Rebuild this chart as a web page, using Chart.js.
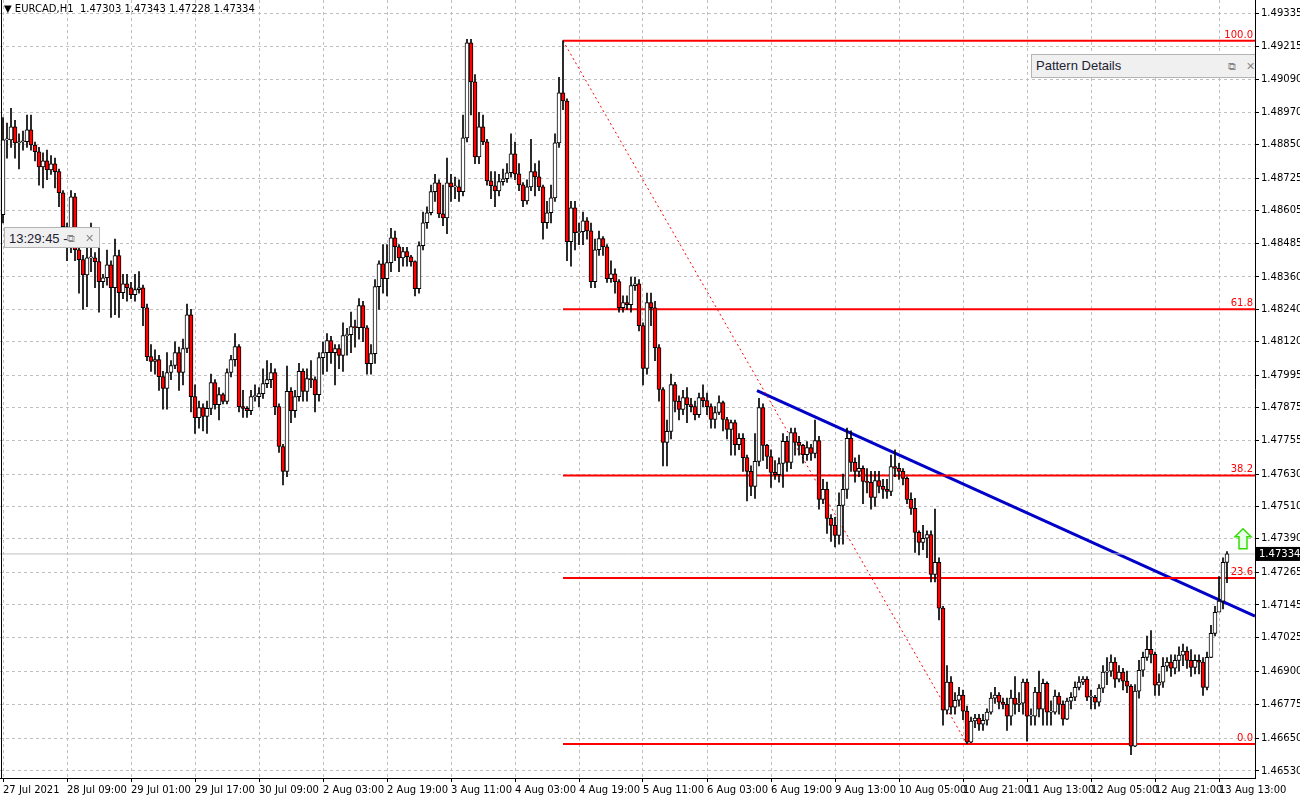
<!DOCTYPE html>
<html>
<head>
<meta charset="utf-8">
<script src="https://cdn.jsdelivr.net/npm/chart.js@4.4.1/dist/chart.umd.min.js"></script>
<style>
  body { margin: 0; background: #fff; }
  #wrap { position: relative; width: 1300px; height: 798px; }
  .head { position: absolute; left: 4px; top: 3px; font: 10px "DejaVu Sans", sans-serif; color: #000; }
  .timer { position: absolute; left: 4px; top: 227px; height: 21px; background: #f0f0f0;
           border: 1px solid #b4b4b4; font: 13px "Liberation Sans", sans-serif; color: #223; line-height: 21px; padding-left: 4px; box-sizing: border-box; width: 96px; }
  .pattern { position: absolute; left: 1031px; top: 54px; width: 224px; height: 24px; background: #f0f0f0;
             border: 1px solid #b4b4b4; border-right: none; font: 13px "Liberation Sans", sans-serif; color: #223; line-height: 22px; padding-left: 4px; box-sizing: border-box; }
  .ico { color: #888; position: absolute; font-size: 11px; }
</style>
</head>
<body>
<div id="wrap">
  <canvas id="chart" width="1300" height="798"></canvas>
  <div class="head">&#9660; EURCAD,H1&nbsp; 1.47303 1.47343 1.47228 1.47334</div>
  <div class="timer">13:29:45 - <span class="ico" style="left:62px">&#10697;</span><span class="ico" style="left:80px">&#10005;</span></div>
  <div class="pattern">Pattern Details <span class="ico" style="left:196px">&#10697;</span><span class="ico" style="left:214px">&#10005;</span></div>
</div>
<script>
const firstOpen = 1.48591;
const closes = [
1.48868,1.48868,1.48916,1.48857,1.48861,1.48861,1.48905,1.48849,1.48824,1.48768,
1.48790,1.48757,1.48779,1.48750,1.48672,1.48546,1.48479,1.48657,1.48461,1.48424,
1.48368,1.48431,1.48431,1.48417,1.48343,1.48357,1.48405,1.48320,1.48439,1.48302,
1.48335,1.48320,1.48294,1.48313,1.48320,1.48246,1.48065,1.48047,1.48054,1.47991,
1.47947,1.48006,1.48032,1.48080,1.48006,1.48095,1.48220,1.47917,1.47839,1.47876,
1.47843,1.47873,1.47969,1.47887,1.47924,1.47899,1.48006,1.48054,1.48102,1.47880,
1.47873,1.47865,1.47917,1.47917,1.47928,1.47965,1.47980,1.48006,1.47880,1.47732,
1.47640,1.47936,1.47865,1.47917,1.48010,1.47936,1.47984,1.47980,1.47924,1.48061,
1.48080,1.48124,1.48080,1.48095,1.48069,1.48143,1.48146,1.48176,1.48172,1.48254,
1.48172,1.48039,1.48076,1.48324,1.48409,1.48354,1.48413,1.48505,1.48472,1.48431,
1.48454,1.48435,1.48417,1.48317,1.48476,1.48561,1.48598,1.48676,1.48709,1.48594,
1.48579,1.48709,1.48694,1.48694,1.48676,1.48875,1.49227,1.49083,1.48805,1.48916,
1.48861,1.48716,1.48698,1.48679,1.48713,1.48724,1.48746,1.48816,1.48742,1.48701,
1.48642,1.48694,1.48750,1.48731,1.48694,1.48561,1.48598,1.48653,1.48857,1.49042,
1.49012,1.48491,1.48616,1.48524,1.48528,1.48568,1.48531,1.48343,1.48461,1.48502,
1.48472,1.48354,1.48372,1.48343,1.48246,1.48265,1.48257,1.48328,1.48335,1.48180,
1.48021,1.48265,1.48246,1.48098,1.47943,1.47747,1.47788,1.47961,1.47899,1.47869,
1.47913,1.47887,1.47880,1.47850,1.47913,1.47902,1.47880,1.47832,1.47858,1.47895,
1.47832,1.47795,1.47821,1.47739,1.47762,1.47691,1.47640,1.47584,1.47677,1.47876,
1.47736,1.47695,1.47636,1.47628,1.47669,1.47751,1.47673,1.47784,1.47747,1.47736,
1.47702,1.47728,1.47706,1.47754,1.47536,1.47573,1.47466,1.47440,1.47403,1.47514,
1.47573,1.47762,1.47673,1.47640,1.47651,1.47603,1.47599,1.47543,1.47606,1.47584,
1.47573,1.47566,1.47658,1.47651,1.47640,1.47614,1.47536,1.47503,1.47414,1.47377,
1.47392,1.47406,1.47258,1.47303,1.47133,1.46755,1.46859,1.46766,1.46792,1.46811,
1.46752,1.46637,1.46715,1.46726,1.46703,1.46718,1.46748,1.46800,1.46811,1.46785,
1.46777,1.46733,1.46800,1.46777,1.46781,1.46859,1.46733,1.46733,1.46822,1.46759,
1.46855,1.46748,1.46748,1.46807,1.46777,1.46722,1.46789,1.46803,1.46840,1.46859,
1.46870,1.46803,1.46803,1.46785,1.46837,1.46896,1.46900,1.46933,1.46870,1.46896,
1.46863,1.46844,1.46622,1.46826,1.46903,1.46951,1.46981,1.46962,1.46848,1.46859,
1.46918,1.46933,1.46911,1.46940,1.46959,1.46974,1.46940,1.46914,1.46940,1.46933,
1.46840,1.46951,1.47040,1.47118,1.47159,1.47303,1.47334];
const highs = [
1.48950,1.48930,1.48985,1.48940,1.48890,1.48900,1.48960,1.48960,1.48860,1.48840,
1.48820,1.48830,1.48810,1.48800,1.48760,1.48680,1.48560,1.48680,1.48670,1.48480,
1.48440,1.48470,1.48560,1.48450,1.48470,1.48370,1.48460,1.48420,1.48500,1.48460,
1.48370,1.48370,1.48340,1.48370,1.48380,1.48330,1.48260,1.48110,1.48090,1.48070,
1.48010,1.48080,1.48050,1.48120,1.48100,1.48130,1.48260,1.48240,1.47960,1.47900,
1.47890,1.47900,1.48000,1.47980,1.47950,1.47930,1.48020,1.48070,1.48150,1.48110,
1.47940,1.47880,1.47940,1.47960,1.47950,1.48020,1.48050,1.48040,1.48020,1.47890,
1.47740,1.48030,1.47950,1.47940,1.48040,1.48020,1.48020,1.48050,1.47990,1.48080,
1.48120,1.48150,1.48140,1.48110,1.48110,1.48190,1.48170,1.48230,1.48200,1.48280,
1.48270,1.48180,1.48110,1.48350,1.48420,1.48480,1.48480,1.48540,1.48530,1.48480,
1.48470,1.48470,1.48440,1.48420,1.48490,1.48600,1.48620,1.48700,1.48740,1.48720,
1.48700,1.48800,1.48740,1.48730,1.48720,1.48960,1.49240,1.49240,1.49110,1.48970,
1.48960,1.48870,1.48750,1.48750,1.48740,1.48760,1.48780,1.48890,1.48860,1.48780,
1.48710,1.48720,1.48870,1.48780,1.48790,1.48700,1.48640,1.48700,1.48890,1.49100,
1.49235,1.49020,1.48640,1.48640,1.48560,1.48600,1.48580,1.48560,1.48500,1.48530,
1.48510,1.48480,1.48420,1.48390,1.48350,1.48290,1.48290,1.48360,1.48360,1.48350,
1.48190,1.48300,1.48300,1.48270,1.48110,1.47950,1.47830,1.48000,1.47970,1.47920,
1.47940,1.47950,1.47910,1.47900,1.47930,1.47960,1.47930,1.47890,1.47880,1.47920,
1.47900,1.47840,1.47830,1.47830,1.47780,1.47780,1.47700,1.47660,1.47780,1.47910,
1.47890,1.47740,1.47720,1.47680,1.47690,1.47780,1.47770,1.47800,1.47800,1.47770,
1.47740,1.47750,1.47740,1.47830,1.47770,1.47610,1.47600,1.47480,1.47470,1.47560,
1.47630,1.47800,1.47790,1.47690,1.47700,1.47660,1.47650,1.47640,1.47640,1.47640,
1.47610,1.47610,1.47700,1.47720,1.47670,1.47650,1.47620,1.47560,1.47540,1.47420,
1.47440,1.47420,1.47420,1.47500,1.47320,1.47140,1.46920,1.46880,1.46820,1.46840,
1.46830,1.46770,1.46730,1.46740,1.46740,1.46740,1.46760,1.46820,1.46840,1.46820,
1.46800,1.46800,1.46830,1.46880,1.46820,1.46870,1.46870,1.46760,1.46840,1.46900,
1.46870,1.46860,1.46790,1.46830,1.46820,1.46790,1.46800,1.46820,1.46860,1.46880,
1.46880,1.46880,1.46830,1.46810,1.46850,1.46920,1.46950,1.46960,1.46950,1.46920,
1.46910,1.46900,1.46850,1.46850,1.46940,1.46970,1.47030,1.47050,1.46970,1.46890,
1.46950,1.46950,1.46960,1.46960,1.46990,1.47000,1.46990,1.46980,1.46960,1.46960,
1.46950,1.46970,1.47070,1.47140,1.47250,1.47320,1.47343];
const lows = [
1.48560,1.48800,1.48840,1.48800,1.48760,1.48830,1.48840,1.48830,1.48790,1.48700,
1.48690,1.48720,1.48740,1.48690,1.48620,1.48520,1.48420,1.48450,1.48420,1.48300,
1.48240,1.48250,1.48380,1.48320,1.48230,1.48320,1.48330,1.48210,1.48220,1.48210,
1.48280,1.48270,1.48280,1.48270,1.48300,1.48180,1.48050,1.48010,1.48000,1.47940,
1.47870,1.47870,1.47980,1.48020,1.47940,1.47960,1.48080,1.47860,1.47780,1.47800,
1.47790,1.47780,1.47850,1.47870,1.47830,1.47890,1.47890,1.47990,1.48030,1.47860,
1.47840,1.47840,1.47850,1.47900,1.47880,1.47910,1.47950,1.47950,1.47850,1.47710,
1.47590,1.47620,1.47820,1.47840,1.47900,1.47900,1.47900,1.47950,1.47860,1.47900,
1.48000,1.48010,1.48040,1.47960,1.48020,1.48010,1.48070,1.48080,1.48100,1.48130,
1.48120,1.48000,1.48000,1.48040,1.48240,1.48300,1.48290,1.48380,1.48420,1.48380,
1.48400,1.48400,1.48400,1.48290,1.48300,1.48460,1.48540,1.48590,1.48640,1.48580,
1.48550,1.48520,1.48640,1.48650,1.48640,1.48660,1.48860,1.48960,1.48780,1.48780,
1.48850,1.48700,1.48650,1.48620,1.48660,1.48700,1.48710,1.48730,1.48720,1.48680,
1.48620,1.48630,1.48680,1.48660,1.48680,1.48500,1.48540,1.48560,1.48640,1.48840,
1.48980,1.48420,1.48400,1.48460,1.48480,1.48480,1.48500,1.48320,1.48320,1.48440,
1.48440,1.48340,1.48340,1.48300,1.48230,1.48230,1.48240,1.48230,1.48310,1.48160,
1.47960,1.48000,1.48180,1.48050,1.47900,1.47660,1.47660,1.47760,1.47860,1.47830,
1.47850,1.47820,1.47860,1.47830,1.47840,1.47880,1.47850,1.47800,1.47800,1.47850,
1.47790,1.47760,1.47700,1.47700,1.47720,1.47640,1.47530,1.47550,1.47540,1.47660,
1.47680,1.47650,1.47580,1.47610,1.47600,1.47580,1.47640,1.47650,1.47700,1.47700,
1.47670,1.47680,1.47680,1.47690,1.47500,1.47520,1.47410,1.47380,1.47360,1.47370,
1.47370,1.47540,1.47640,1.47600,1.47620,1.47520,1.47560,1.47500,1.47510,1.47560,
1.47540,1.47540,1.47550,1.47620,1.47610,1.47590,1.47520,1.47480,1.47340,1.47330,
1.47350,1.47320,1.47230,1.47230,1.47090,1.46700,1.46740,1.46740,1.46740,1.46770,
1.46720,1.46630,1.46635,1.46690,1.46680,1.46680,1.46700,1.46740,1.46780,1.46760,
1.46760,1.46680,1.46700,1.46740,1.46750,1.46740,1.46640,1.46700,1.46700,1.46730,
1.46700,1.46700,1.46700,1.46740,1.46740,1.46700,1.46720,1.46760,1.46790,1.46830,
1.46850,1.46790,1.46760,1.46760,1.46770,1.46820,1.46850,1.46880,1.46840,1.46860,
1.46830,1.46820,1.46590,1.46620,1.46800,1.46880,1.46940,1.46930,1.46810,1.46810,
1.46840,1.46900,1.46880,1.46890,1.46900,1.46920,1.46910,1.46880,1.46890,1.46890,
1.46810,1.46830,1.46950,1.47030,1.47120,1.47130,1.47228];
const xLabels = ["27 Jul 2021","28 Jul 09:00","29 Jul 01:00","29 Jul 17:00","30 Jul 09:00",
  "2 Aug 03:00","2 Aug 19:00","3 Aug 11:00","4 Aug 03:00","4 Aug 19:00","5 Aug 11:00",
  "6 Aug 03:00","6 Aug 19:00","9 Aug 13:00","10 Aug 05:00","10 Aug 21:00","11 Aug 13:00",
  "12 Aug 05:00","12 Aug 21:00","13 Aug 13:00"];
const yTicks = [1.49335,1.49215,1.49090,1.48970,1.48850,1.48725,1.48605,1.48485,1.48360,1.48240,
  1.48120,1.47995,1.47875,1.47755,1.47630,1.47510,1.47390,1.47265,1.47145,1.47025,
  1.46900,1.46775,1.46650,1.46530];
const fibNames = ["100.0","61.8","38.2","23.6","0.0"];
const fibValues = [1.49235,1.48240,1.47625,1.47245,1.46630];
const fibStart = 140, fibLow = 241;
const trendFrom = [188.5, 1.47939], trendTo = [313, 1.47104];
const lastPrice = 1.47334;

const opens = closes.map((c, i) => i === 0 ? firstOpen : closes[i - 1]);
const bodies = closes.map((c, i) => ({x: i, y: [opens[i], c]}));
const wicks = closes.map((c, i) => ({x: i, y: [lows[i], highs[i]]}));
const bodyColors = closes.map((c, i) => c < opens[i] ? "#ff0000" : "#ffffff");

const fibSets = fibValues.map(v => ({
  type: "line", data: [{x: fibStart, y: v}, {x: 313, y: v}],
  borderColor: "#ff0000", borderWidth: 2, pointRadius: 0
}));

const overlay = {
  id: "overlay",
  afterDatasetsDraw(chart) {
    const {ctx, chartArea: a, scales: {x, y}} = chart;
    ctx.save();
    ctx.strokeStyle = "#000"; ctx.lineWidth = 1;
    ctx.beginPath(); ctx.moveTo(a.left + 1.5, a.top); ctx.lineTo(a.left + 1.5, a.bottom); ctx.stroke();
    ctx.font = "10px 'DejaVu Sans'"; ctx.fillStyle = "#ff0000"; ctx.textAlign = "right";
    fibValues.forEach((v, i) => ctx.fillText(fibNames[i], a.right - 2, y.getPixelForValue(v) - 3));
    const py = y.getPixelForValue(lastPrice);
    ctx.fillStyle = "#000"; ctx.fillRect(a.right + 1, py - 7, 44, 14);
    ctx.fillStyle = "#fff"; ctx.textAlign = "left"; ctx.textBaseline = "middle";
    ctx.fillText(lastPrice.toFixed(5), a.right + 4, py);
    const ax = x.getPixelForValue(310), ay = y.getPixelForValue(1.47390);
    ctx.beginPath();
    ctx.moveTo(ax, ay - 10); ctx.lineTo(ax + 8, ay - 2); ctx.lineTo(ax + 4, ay - 2);
    ctx.lineTo(ax + 4, ay + 10); ctx.lineTo(ax - 4, ay + 10); ctx.lineTo(ax - 4, ay - 2);
    ctx.lineTo(ax - 8, ay - 2); ctx.closePath();
    ctx.fillStyle = "#eaffea"; ctx.fill(); ctx.strokeStyle = "#33dd00"; ctx.lineWidth = 1.5; ctx.stroke();
    ctx.restore();
  }
};

new Chart("chart", {
  data: {
    datasets: [
      {type: "bar", data: bodies, backgroundColor: bodyColors, borderColor: "#000", borderWidth: 1,
       borderSkipped: false, barThickness: 4, minBarLength: 1, grouped: false},
      {type: "bar", data: wicks, backgroundColor: "#000", barThickness: 1, grouped: false},
      {type: "line", data: [{x: -0.75, y: lastPrice}, {x: 313, y: lastPrice}], borderColor: "#c0c0c0", borderWidth: 1, pointRadius: 0},
      ...fibSets,
      {type: "line", data: [{x: fibStart, y: fibValues[0]}, {x: fibLow, y: fibValues[4]}],
       borderColor: "#ff0000", borderWidth: 1, borderDash: [2, 3], pointRadius: 0},
      {type: "line", data: [{x: trendFrom[0], y: trendFrom[1]}, {x: trendTo[0], y: trendTo[1]}],
       borderColor: "#0000c8", borderWidth: 3, pointRadius: 0}
    ]
  },
  options: {
    responsive: false, animation: false,
    layout: {padding: 0},
    plugins: {legend: {display: false}, tooltip: {enabled: false}},
    scales: {
      x: {
        type: "linear", min: -0.75, max: 313, offset: false,
        afterBuildTicks: s => { s.ticks = xLabels.map((l, i) => ({value: i * 16})); },
        afterFit: s => { s.height = 20; s.paddingLeft = 0; s.paddingRight = 0; },
        ticks: {callback: v => xLabels[v / 16], align: "start", maxRotation: 0, autoSkip: false,
                font: {family: "DejaVu Sans", size: 10}, color: "#000", padding: 2},
        grid: {offset: false, color: "#c0c0c0", tickColor: "#000", tickLength: 4, tickBorderDash: []},
        border: {display: true, color: "#000", dash: [3, 3]}
      },
      y: {
        position: "right", min: 1.46504, max: 1.49386,
        afterBuildTicks: s => { s.ticks = yTicks.map(v => ({value: v})); },
        afterFit: s => { s.width = 45; s.paddingTop = 0; s.paddingBottom = 0; },
        ticks: {callback: v => v.toFixed(5), font: {family: "DejaVu Sans", size: 10}, color: "#000", padding: 2},
        grid: {color: "#c0c0c0", tickColor: "#000", tickLength: 4, tickBorderDash: []},
        border: {display: true, color: "#000", dash: [3, 3]}
      }
    }
  },
  plugins: [overlay]
});
</script>
</body>
</html>
